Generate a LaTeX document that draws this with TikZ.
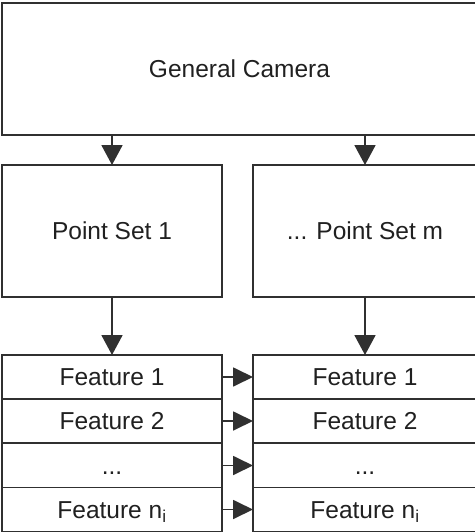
\documentclass[tikz,border=0pt]{standalone}
\usepackage{fontspec}
\setmainfont{Liberation Sans}
\usetikzlibrary{arrows.meta}
\definecolor{linegray}{HTML}{303030}
\definecolor{textgray}{HTML}{202020}
\begin{document}
\begin{tikzpicture}[x=1pt,y=1pt,
  box/.style={draw=linegray, line width=1.8pt, inner sep=0pt, outer sep=0pt,
    anchor=north west, text=textgray, text height=17.5pt, text depth=0pt,
    font=\fontsize{24.5}{29}\selectfont},
  bigbox/.style={box, minimum width=475pt, minimum height=132pt},
  setbox/.style={box, minimum height=132pt},
  rowbox/.style={box, minimum height=44pt},
  conn/.style={draw=linegray, line width=1.8pt,
    -{Triangle[length=20pt,width=21pt]}}
]
\useasboundingbox (0,0) rectangle (474,-532);
\node[bigbox] (top) at (2,-3) {General Camera};
\node[setbox, minimum width=220pt] (ps1) at (2,-165) {Point Set 1};
\node[setbox, minimum width=224pt] (psm) at (253,-165) {... Point Set m};
\foreach \i/\y/\t in {1/355/{Feature 1},2/399/{Feature 2},3/443.5/{...},4/487.5/{Feature n\textsubscript{i}}}{
  \node[rowbox, minimum width=220pt] (fa\i) at (2,-\y) {\t};
  \node[rowbox, minimum width=224pt] (fb\i) at (253,-\y) {\t};
}
\draw[conn] (ps1.north |- top.south) -- (ps1.north);
\draw[conn] (psm.north |- top.south) -- (psm.north);
\draw[conn] (ps1.south) -- (fa1.north);
\draw[conn] (psm.south) -- (fb1.north);
\foreach \i in {1,2,3,4}{
  \draw[conn, -{Triangle[length=20pt,width=19pt]}] (fa\i.east) -- (fb\i.west);
}
\end{tikzpicture}
\end{document}
